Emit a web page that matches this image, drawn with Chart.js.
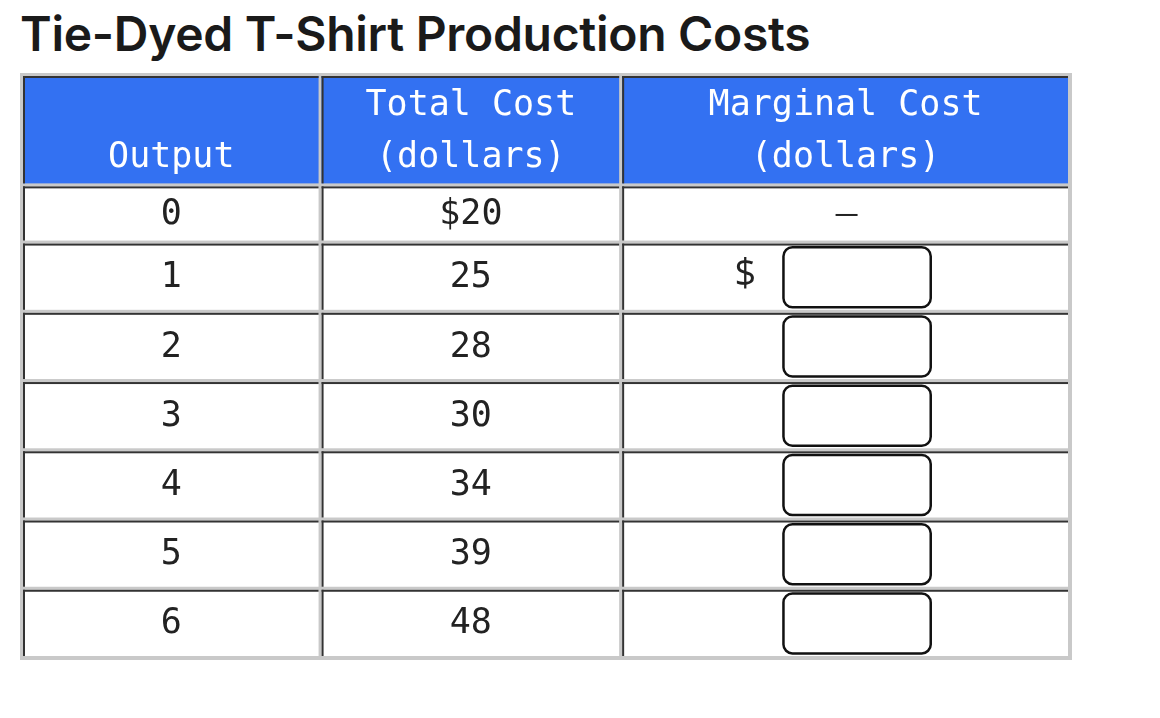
<!DOCTYPE html>
<html>
<head>
<meta charset="utf-8">
<script src="https://cdn.jsdelivr.net/npm/chart.js@4/dist/chart.umd.min.js"></script>
<style>
  body { margin: 0; background: #fff; width: 1160px; height: 718px; position: relative; overflow: hidden; }
  h1 { position: absolute; left: 20px; top: 4px; margin: 0; font: 600 48px Inter, "Noto Sans", sans-serif; color: #1a1a1a; letter-spacing: -0.3px; white-space: nowrap; }
  #wrap { position: absolute; left: 20px; top: 73px; width: 1052px; height: 587px; }
</style>
</head>
<body>
<h1>Tie-Dyed T-Shirt Production Costs</h1>
<div id="wrap"><canvas id="tbl"></canvas></div>
<script>
const headers = [["Output"], ["Total Cost", "(dollars)"], ["Marginal Cost", "(dollars)"]];
const outputs = ["0", "1", "2", "3", "4", "5", "6"];
const totalCost = ["$20", "25", "28", "30", "34", "39", "48"];
const marginalCost = ["—", "", "", "", "", "", ""];

// table geometry in scale units
const colEdges = [0, 298, 598, 1046];
const rowEdges = [0, 110, 167, 236, 305, 374, 443, 512, 581];

const tablePlugin = {
  id: "table",
  afterDraw(chart) {
    const ctx = chart.ctx;
    const x = chart.scales.x, y = chart.scales.y;
    const X = v => x.getPixelForValue(v), Y = v => y.getPixelForValue(v);
    ctx.save();
    ctx.fillStyle = "#c9c9c9";
    ctx.fillRect(X(0) - 2, Y(0) - 2, X(1046) - X(0) + 4, Y(581) - Y(0) + 4);
    for (let r = 0; r < rowEdges.length - 1; r++) {
      for (let c = 0; c < 3; c++) {
        const x0 = X(colEdges[c]), x1 = X(colEdges[c + 1]);
        const y0 = Y(rowEdges[r]), y1 = Y(rowEdges[r + 1]);
        ctx.fillStyle = r === 0 ? "#3371f2" : "#ffffff";
        ctx.fillRect(x0 + 1, y0 + 1, x1 - x0 - 3, y1 - y0 - 3);
        ctx.fillStyle = "#333";
        ctx.fillRect(x0 + 1, y0 + 1, x1 - x0 - 3, 2);
        ctx.fillRect(x0 + 1, y0 + 1, 2, y1 - y0 - 3);
        const cx = (x0 + x1) / 2, cy = (y0 + y1) / 2;
        ctx.textAlign = "center";
        ctx.textBaseline = "middle";
        if (r === 0) {
          ctx.fillStyle = "#fff";
          ctx.font = "35px 'DejaVu Sans Mono', monospace";
          const lines = headers[c];
          if (lines.length === 1) ctx.fillText(lines[0], cx, y0 + 83);
          else { ctx.fillText(lines[0], cx, y0 + 31); ctx.fillText(lines[1], cx, y0 + 83); }
        } else {
          const i = r - 1;
          ctx.fillStyle = "#222";
          ctx.font = "35px 'DejaVu Sans Mono', monospace";
          if (c === 0) ctx.fillText(outputs[i], cx, cy + 1);
          if (c === 1) ctx.fillText(totalCost[i], cx, cy + 1);
          if (c === 2) {
            if (marginalCost[i] === "—") {
              ctx.fillRect(cx - 10, cy, 22, 2);
            } else {
              if (i === 1) { ctx.font = "38px 'Open Sans', sans-serif"; ctx.fillText("$", X(722), cy - 2); }
              ctx.beginPath();
              ctx.lineWidth = 2.5;
              ctx.strokeStyle = "#111";
              ctx.roundRect(X(760), cy - 30, X(907) - X(760), 60, 9);
              ctx.stroke();
            }
          }
        }
      }
    }
    ctx.restore();
  }
};

new Chart(document.getElementById("tbl"), {
  type: "scatter",
  data: { datasets: [{ data: [], pointRadius: 0 }] },
  options: {
    responsive: true,
    maintainAspectRatio: false,
    animation: false,
    layout: { padding: 2 },
    plugins: { legend: { display: false }, tooltip: { enabled: false } },
    scales: {
      x: { type: "linear", min: 0, max: 1046, display: false },
      y: { type: "linear", min: 0, max: 581, reverse: true, display: false }
    }
  },
  plugins: [tablePlugin]
});
</script>
</body>
</html>
